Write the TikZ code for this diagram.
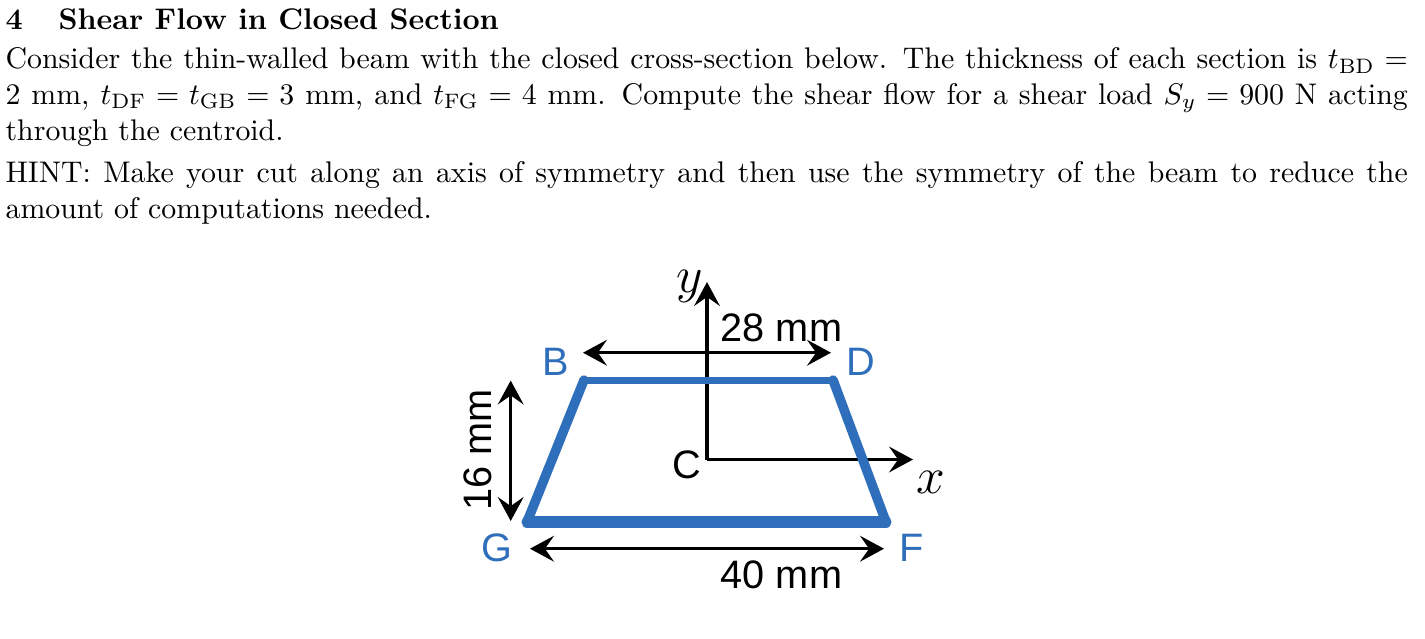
\documentclass[tikz,border=0pt]{standalone}
\usepackage{amsmath}
\usepackage[no-math]{fontspec}
\newfontfamily\figfont{Liberation Sans}
\usetikzlibrary{arrows.meta}
\definecolor{wallblue}{RGB}{47,110,186}
\tikzset{
  wallthin/.style={draw=wallblue,line width=2.35pt,line cap=round},
  wallmid/.style={draw=wallblue,line width=3.2pt,line cap=round},
  wallthick/.style={draw=wallblue,line width=3.7pt,line cap=round},
  dimline/.style={line width=1.15pt,-{Stealth[length=8pt,width=8.6pt,inset=3pt]}},
  dimboth/.style={line width=1.15pt,{Stealth[length=8pt,width=8.6pt,inset=3pt]}-{Stealth[length=8pt,width=8.6pt,inset=3pt]}},
  bodytext/.style={anchor=north west,inner sep=0pt,text width=469.75pt,align=justify},
  figlabel/.style={inner sep=0pt,font=\figfont\fontsize{13.3}{16}\selectfont},
  corner/.style={figlabel,text=wallblue},
  axislabel/.style={inner sep=0pt,font=\fontsize{16}{20}\selectfont}
}

\begin{document}
\begin{tikzpicture}[x=0.335pt,y=0.335pt,yscale=-1]
\useasboundingbox (0,0) rectangle (1425,638);

% Text Node
\node (title) [anchor=base west,inner sep=0pt,font=\fontsize{10}{12}\selectfont\bfseries] at (5,29) {4\hspace{12pt}Shear Flow in Closed Section};
% Text Node
\node (problem) [bodytext] at (5,47) {Consider the thin-walled beam with the closed cross-section below. The thickness of each section is $t_{\mathrm{BD}}=2$~mm, $t_{\mathrm{DF}}=t_{\mathrm{GB}}=3$ mm, and $t_{\mathrm{FG}}=4$ mm. Compute the shear flow for a shear load $S_y=900$ N acting through the centroid.};
% Text Node
\node (hint) [bodytext] at (5,161) {HINT: Make your cut along an axis of symmetry and then use the symmetry of the beam to reduce the amount of computations needed.};

\coordinate (ptC) at (707,459.5);
\coordinate (ptY) at (707,282);
\coordinate (ptX) at (913,459.5);
\coordinate (ptB) at (584,380);
\coordinate (ptD) at (833,380);
\coordinate (ptF) at (886,522);
\coordinate (ptG) at (527,522);
\coordinate (topL) at (583,352.7);
\coordinate (topR) at (831,352.7);
\coordinate (botL) at (530,548.7);
\coordinate (botR) at (884,548.7);
\coordinate (sideT) at (510.7,380.5);
\coordinate (sideB) at (510.7,521);

%Straight Lines
\draw [dimline] (ptC) -- (ptY);
\draw [dimline] (ptC) -- (ptX);
\draw [dimboth] (topL) -- (topR);
\draw [dimboth] (botL) -- (botR);
\draw [dimboth] (sideT) -- (sideB);
%Walls
\draw [wallthin] (ptB) -- (ptD);
\draw [wallmid] (ptD) -- (ptF);
\draw [wallmid] (ptG) -- (ptB);
\draw [wallthick] (ptF) -- (ptG);

% Text Node
\node (labB) [corner] at (556,362) {B};
\node (labD) [corner] at (860.5,362) {D};
\node (labG) [corner] at (497,548) {G};
\node (labF) [corner] at (911.5,548) {F};
\node (labC) [figlabel] at (686.5,465) {C};
\node (labTop) [figlabel] at (781.5,328) {28 mm};
\node (labBot) [figlabel] at (781.5,575) {40 mm};
\node (labSide) [figlabel,rotate=90] at (478,450) {16 mm};
\node (labY) [axislabel] at (690,286) {$y$};
\node (labX) [axislabel] at (931,482) {$x$};

\end{tikzpicture}
\end{document}
